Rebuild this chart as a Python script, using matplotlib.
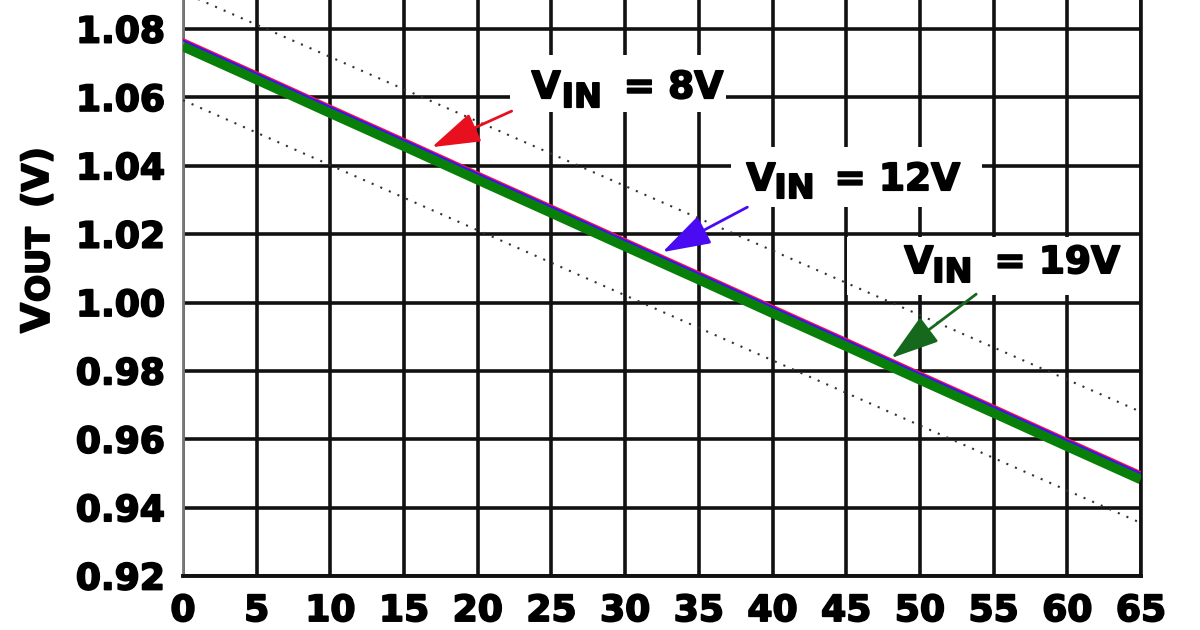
import matplotlib
matplotlib.use("Agg")
import matplotlib.pyplot as plt
import matplotlib.patheffects as pe
from matplotlib.patches import Rectangle
from matplotlib.patches import ArrowStyle

# ---- data ----
iout = [0, 5, 10, 15, 20, 25, 30, 35, 40, 45, 50, 55, 60, 65]
vout_19v = [1.0752, 1.0655, 1.0557, 1.0460, 1.0362, 1.0265, 1.0167,
            1.0070, 0.9972, 0.9875, 0.9777, 0.9680, 0.9582, 0.9485]
vout_12v = [1.0767, 1.0670, 1.0572, 1.0475, 1.0377, 1.0280, 1.0182,
            1.0085, 0.9987, 0.9890, 0.9792, 0.9695, 0.9597, 0.9500]
vout_8v = [1.0771, 1.0674, 1.0576, 1.0479, 1.0381, 1.0284, 1.0186,
           1.0089, 0.9991, 0.9894, 0.9796, 0.9699, 0.9601, 0.9504]
limit_x = [0, 65]
upper_limit = [1.0907, 0.9680]
lower_limit = [1.0592, 0.9355]
xticks = list(range(0, 70, 5))
yticks = [0.92, 0.94, 0.96, 0.98, 1.00, 1.02, 1.04, 1.06, 1.08]
ytick_labels = ["0.92", "0.94", "0.96", "0.98", "1.00", "1.02", "1.04", "1.06", "1.08"]

FONT = "DejaVu Sans"
plt.rcParams["font.family"] = [FONT]
HEAVY = [pe.withStroke(linewidth=1.3, foreground="black")]

fig = plt.figure(figsize=(12, 6.3), dpi=100)
ax = fig.add_axes([183 / 1200, 54 / 630, (1141 - 183) / 1200, 1 - 54 / 630])
ax.set_xlim(0, 65)
ax.set_ylim(0.92, 1.0885)
ax.set_xticks(xticks)
ax.set_yticks(yticks)
ax.set_yticklabels(ytick_labels)
ax.tick_params(length=0, labelsize=26, pad=13)
for lab in ax.get_xticklabels() + ax.get_yticklabels():
    lab.set_fontweight("bold")
    lab.set_path_effects(HEAVY)
ax.grid(True, color="#111111", linewidth=2.6)
ax.set_axisbelow(True)
ax.spines["top"].set_visible(False)
ax.spines["left"].set_color("#777777")
ax.spines["left"].set_linewidth(2)
ax.spines["bottom"].set_color("#111111")
ax.spines["bottom"].set_linewidth(2.8)
ax.spines["right"].set_color("#111111")
ax.spines["right"].set_linewidth(2.6)

# white label boxes (interrupt the grid)
boxes = [((22.16, 1.0557), 36.87 - 22.16, 1.0723 - 1.0557),
         ((37.21, 1.0279), 54.22 - 37.21, 1.0454 - 1.0279),
         ((45.07, 1.0022), 64.73 - 45.07, 1.0191 - 1.0022)]
for (xy, w, h) in boxes:
    ax.add_patch(Rectangle(xy, w, h, facecolor="white", edgecolor="none", zorder=1.5))

# tolerance dotted lines
ax.plot(limit_x, upper_limit, color="#333333", lw=1.5, ls=(0, (1.0, 3.5)), zorder=3)
ax.plot(limit_x, lower_limit, color="#333333", lw=1.5, ls=(0, (1.0, 3.5)), zorder=3)

# data lines
ax.plot(iout, vout_19v, color="#087f08", lw=8.3, solid_capstyle="butt", zorder=4)
ax.plot(iout, vout_8v, color="#ff1040", lw=1.4, zorder=4.1)
ax.plot(iout, vout_12v, color="#3a10ff", lw=1.4, zorder=4.2)

# arrows
arrows = [((22.3, 1.0560), (16.88, 1.04544), "#e8101f"),
          ((38.29, 1.0279), (32.53, 1.01474), "#4a0af2"),
          ((53.82, 1.00246), (48.05, 0.98374), "#16691c")]
for tail, tip, col in arrows:
    ax.annotate("", xy=tip, xytext=tail,
                arrowprops=dict(arrowstyle=ArrowStyle("-|>", head_length=3.0, head_width=0.95),
                                mutation_scale=10, color=col, lw=2.0,
                                shrinkA=0, shrinkB=0),
                zorder=5)

# labels V_IN = ...
labels = [(23.65, 25.69, 29.9, 1.05977, 1.05714, "= 8V"),
          (38.23, 40.12, 44.2, 1.03287, 1.03053, "= 12V"),
          (48.94, 50.83, 55.05, 1.00860, 1.00597, "= 19V")]
for xv, xin, xeq, yb, ysub, rest in labels:
    ax.text(xv, yb, "V", fontsize=27, fontweight="bold", ha="left", va="baseline",
            zorder=6, path_effects=HEAVY)
    ax.text(xin, ysub, "IN", fontsize=24, fontweight="bold", ha="left", va="baseline",
            zorder=6, path_effects=HEAVY)
    ax.text(xeq, yb, rest, fontsize=27, fontweight="bold", ha="left", va="baseline",
            zorder=6, path_effects=HEAVY)

# y label: V_OUT (V)
fig.text(49 / 1200, 297 / 630, "V", rotation=90, rotation_mode="anchor",
         ha="left", va="baseline", fontsize=28, fontweight="bold", path_effects=HEAVY)
fig.text(49 / 1200, 328 / 630, "OUT", rotation=90, rotation_mode="anchor",
         ha="left", va="baseline", fontsize=23, fontweight="bold", path_effects=HEAVY)
fig.text(48 / 1200, 422 / 630, "(V)", rotation=90, rotation_mode="anchor",
         ha="left", va="baseline", fontsize=26, fontweight="bold", path_effects=HEAVY)

fig.savefig("out.png", dpi=100)
